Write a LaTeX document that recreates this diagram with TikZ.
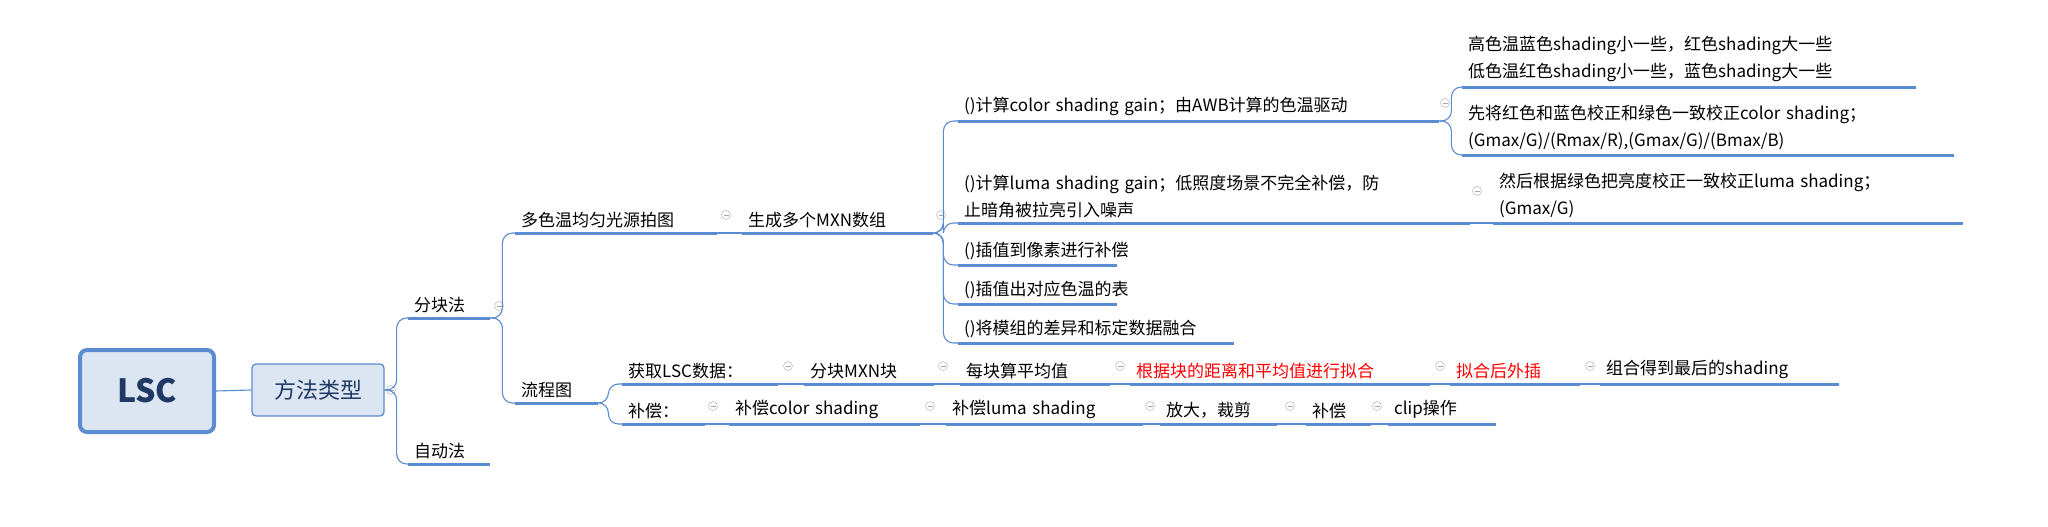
\documentclass[tikz,border=0pt]{standalone}
\usepackage{fontspec}
\setmainfont{Noto Sans CJK SC}
\definecolor{ln}{HTML}{5B8BD0}
\definecolor{boxf}{HTML}{DCE6F2}
\definecolor{dk}{HTML}{1F3864}
\begin{document}
\begin{tikzpicture}[x=1pt,y=-1pt,
  tp/.style args={#1}{anchor=south west,inner xsep=6pt,inner ysep=5pt,text width=#1-12pt,align=left,font=\fontsize{17}{27}\selectfont,append after command={(\tikzlastnode.south west) edge[uline] (\tikzlastnode.south east)}},
  uline/.style={draw=ln,line width=3pt},
  conn/.style={draw=ln,line width=1.1pt,rounded corners=10pt},
  tog/.style={circle,draw=black!25,line width=0.6pt,minimum size=9pt,inner sep=0pt,path picture={\draw[black!35,line width=0.6pt](path picture bounding box.west)++(2pt,0)--++(5pt,0);}},
  red/.style={text=red}]
\useasboundingbox (0,0) rectangle (2048,527);
% root
\node[draw=ln,fill=boxf,line width=4pt,rounded corners=7pt,minimum width=134pt,minimum height=82pt,font=\fontsize{32}{32}\selectfont\bfseries,text=dk] (lsc) at (147,391) {LSC};
\node[draw=ln,fill=boxf,line width=1.3pt,rounded corners=4pt,minimum width=132pt,minimum height=52pt,font=\fontsize{22}{22}\selectfont,text=dk] (ff) at (318,390) {方法类型};
\draw[conn] (lsc.east) -- (ff.west);
\node[tog] (t0) at (391,390) {};
% level 2
\node[tp=82pt] (fk) at (408,318) {分块法};
\node[tp=82pt] (zd) at (408,464) {自动法};
\draw[conn] (ff.east) -- ++(12,0) |- (fk.south west);
\draw[conn] (ff.east) -- ++(12,0) |- (zd.south west);
\node[tog] (t1) at (499,306) {};
% level 3
\node[tp=202pt] (ds) at (515,233) {多色温均匀光源拍图};
\node[tp=83pt] (lc) at (515,403) {流程图};
\draw[conn] (fk.south east) -- ++(12,0) |- (ds.south west);
\draw[conn] (fk.south east) -- ++(12,0) |- (lc.south west);
\node[tog] (t2) at (726,215) {};
\node[tp=191pt] (sc) at (742,233) {生成多个MXN数组};
\draw[conn] (ds.south east) -- (sc.south west);
\node[tog] (t3) at (941,215) {};
% level 4
\node[tp=481pt] (c1) at (958,121) {()计算color shading gain；由AWB计算的色温驱动};
\node[tp=512pt] (c2) at (958,223) {()计算luma shading gain；低照度场景不完全补偿，防\\止暗角被拉亮引入噪声};
\node[tp=159pt] (c3) at (958,265) {()插值到像素进行补偿};
\node[tp=159pt] (c4) at (958,304) {()插值出对应色温的表};
\node[tp=276pt] (c5) at (958,343) {()将模组的差异和标定数据融合};
\foreach \c in {c1,c2,c3,c4,c5} \draw[conn] (sc.south east) -- ++(10,0) |- (\c.south west);
\node[tog] (t4) at (1445,103) {};
\node[tp=454pt] (g1) at (1462,87) {高色温蓝色shading小一些，红色shading大一些\\低色温红色shading小一些，蓝色shading大一些};
\node[tp=492pt] (g2) at (1462,155) {先将红色和蓝色校正和绿色一致校正color shading；\\(Gmax/G)/(Rmax/R),(Gmax/G)/(Bmax/B)};
\draw[conn] (c1.south east) -- ++(12,0) |- (g1.south west);
\draw[conn] (c1.south east) -- ++(12,0) |- (g2.south west);
\node[tog] (t5) at (1477,191) {};
\node[tp=470pt] (l1) at (1493,223) {然后根据绿色把亮度校正一致校正luma shading；\\(Gmax/G)};
\draw[conn] (c2.south east) -- (l1.south west);
% flow rows
\node[tp=156pt] (r1) at (622,384) {获取LSC数据：};
\node[tp=130pt] (r2) at (804,384) {分块MXN块};
\node[tp=150pt] (r3) at (960,384) {每块算平均值};
\node[tp=300pt,red] (r4) at (1130,384) {根据块的距离和平均值进行拟合};
\node[tp=130pt,red] (r5) at (1450,384) {拟合后外插};
\node[tp=239pt] (r6) at (1600,384) {组合得到最后的shading};
\node[tog] at (788,366) {};
\node[tog] at (943,366) {};
\node[tog] at (1120,366) {};
\node[tog] at (1440,366) {};
\node[tog] at (1590,366) {};
\node[tp=83pt] (s1) at (622,424) {补偿：};
\node[tp=191pt] (s2) at (729,424) {补偿color shading};
\node[tp=197pt] (s3) at (946,424) {补偿luma shading};
\node[tp=117pt] (s4) at (1160,424) {放大，裁剪};
\node[tp=65pt] (s5) at (1306,424) {补偿};
\node[tp=108pt] (s6) at (1388,424) {clip操作};
\node[tog] at (713,406) {};
\node[tog] at (930,406) {};
\node[tog] at (1150,406) {};
\node[tog] at (1290,406) {};
\node[tog] at (1377,406) {};
\draw[conn] (lc.south east) -- ++(10,0) |- (r1.south west);
\draw[conn] (lc.south east) -- ++(10,0) |- (s1.south west);
\draw[conn] (r1.south east)--(r2.south west) (r2.south east)--(r3.south west) (r3.south east)--(r4.south west) (r4.south east)--(r5.south west) (r5.south east)--(r6.south west);
\draw[conn] (s1.south east)--(s2.south west) (s2.south east)--(s3.south west) (s3.south east)--(s4.south west) (s4.south east)--(s5.south west) (s5.south east)--(s6.south west);
\end{tikzpicture}
\end{document}
